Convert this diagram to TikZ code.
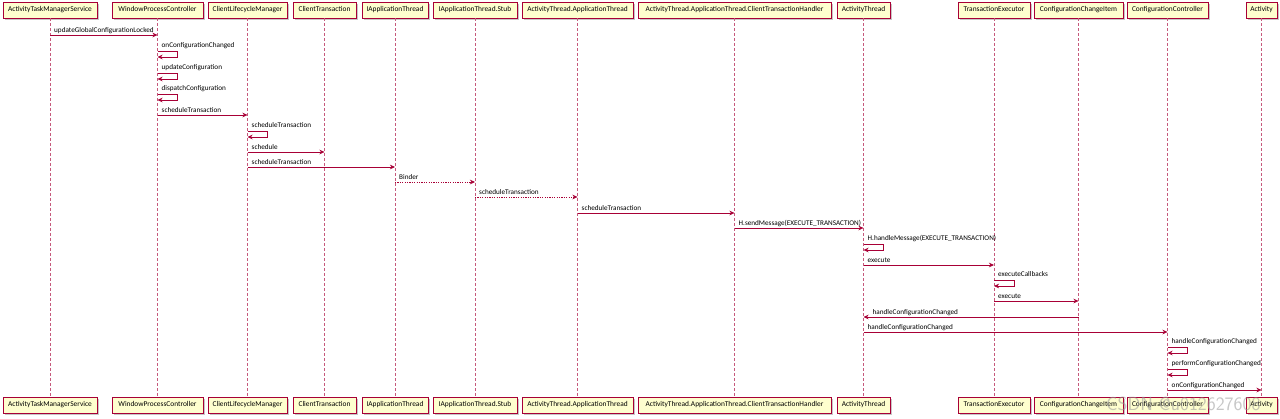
\documentclass[tikz,border=0pt]{standalone}
\usepackage{fontspec}
\setmainfont{Carlito}
\usetikzlibrary{arrows.meta,calc}
\definecolor{pu}{HTML}{A80036}
\definecolor{pfill}{HTML}{FEFECE}
\tikzset{
  part/.style={draw=pu, fill=pfill, line width=0.8pt, minimum height=16pt, inner sep=0pt, text height=5.2pt, text depth=1.6pt, font=\fontsize{7.4}{8}\selectfont, text=black},
  life/.style={draw=pu!65, line width=0.6pt, dash pattern=on 2.5pt off 2.5pt},
  msg/.style={draw=pu, line width=0.6pt, -{Stealth[length=5pt,width=4.5pt,inset=1.5pt]}},
  dmsg/.style={msg, dash pattern=on 1.2pt off 1.2pt},
  lbl/.style={font=\fontsize{7.2}{8}\selectfont, text=black, anchor=base west, inner sep=0pt},
}
\newcommand{\msgR}[4]{% from, to, y, label  (left to right)
  \draw[msg] (#1.center |- 0,#3) -- (#2.center |- 0,#3);
  \node[lbl] at ($(#1.center |- 0,#3)+(4,-3)$) {#4};}
\newcommand{\dmsgR}[4]{%
  \draw[dmsg] (#1.center |- 0,#3) -- (#2.center |- 0,#3);
  \node[lbl] at ($(#1.center |- 0,#3)+(4,-3)$) {#4};}
\newcommand{\msgL}[4]{% from (right), to (left)
  \draw[msg] (#1.center |- 0,#3) -- (#2.center |- 0,#3);
  \node[lbl] at ($(#2.center |- 0,#3)+(9,-3)$) {#4};}
\newcommand{\msgS}[3]{% self: lifeline, top y, label
  \draw[msg] (#1.center |- 0,#2) -- ++(20,0) -- ++(0,6) -- ($(#1.center |- 0,#2)+(0,6)$);
  \node[lbl] at ($(#1.center |- 0,#2)+(4,-4)$) {#3};}
\begin{document}
\begin{tikzpicture}[x=1pt,y=-1pt]
\useasboundingbox[fill=white] (0,0) rectangle (1280,418);
\foreach \n/\l/\r/\t in {
  ATMS/3/97/ActivityTaskManagerService,
  WPC/112/203/WindowProcessController,
  CLM/208/287/ClientLifecycleManager,
  CT/293/356/ClientTransaction,
  IAT/362/428/IApplicationThread,
  STUB/433/517/IApplicationThread.Stub,
  ATAT/522/633/ActivityThread.ApplicationThread,
  CTH/638/831/ActivityThread.ApplicationThread.ClientTransactionHandler,
  AT/837/890/ActivityThread,
  TE/958/1030/TransactionExecutor,
  CCI/1034/1123/ConfigurationChangeItem,
  CC/1127/1208/ConfigurationController,
  ACT/1246/1277/Activity}{
  \fill[black!22] (\l+1.5,3.5) rectangle (\r+1.5,19.5);
  \fill[black!22] (\l+1.5,398.5) rectangle (\r+1.5,414.5);
  \node[part, minimum width=\r-\l] (top\n) at ({(\l+\r)/2},10) {\t};
  \node[part, minimum width=\r-\l] (bot\n) at ({(\l+\r)/2},405) {\t};
  \draw[life] (top\n.south) -- (bot\n.north);
}
\msgR{topATMS}{topWPC}{35}{updateGlobalConfigurationLocked}
\msgS{topWPC}{51}{onConfigurationChanged}
\msgS{topWPC}{73}{updateConfiguration}
\msgS{topWPC}{94}{dispatchConfiguration}
\msgR{topWPC}{topCLM}{115}{scheduleTransaction}
\msgS{topCLM}{131}{scheduleTransaction}
\msgR{topCLM}{topCT}{152}{schedule}
\msgR{topCLM}{topIAT}{167}{scheduleTransaction}
\dmsgR{topIAT}{topSTUB}{182}{Binder}
\dmsgR{topSTUB}{topATAT}{197}{scheduleTransaction}
\msgR{topATAT}{topCTH}{213}{scheduleTransaction}
\msgR{topCTH}{topAT}{228}{H.sendMessage(EXECUTE\_TRANSACTION)}
\msgS{topAT}{244}{H.handleMessage(EXECUTE\_TRANSACTION)}
\msgR{topAT}{topTE}{265}{execute}
\msgS{topTE}{280}{executeCallbacks}
\msgR{topTE}{topCCI}{301}{execute}
\msgL{topCCI}{topAT}{317}{handleConfigurationChanged}
\msgR{topAT}{topCC}{332}{handleConfigurationChanged}
\msgS{topCC}{347}{handleConfigurationChanged}
\msgS{topCC}{369}{performConfigurationChanged}
\msgR{topCC}{topACT}{390}{onConfigurationChanged}
\node[font=\fontsize{19}{20}\selectfont\sffamily, text=black!40, opacity=0.55, anchor=west, inner sep=0pt] (wm) at (1106,404) {CSDN @u012627608};
\end{tikzpicture}
\end{document}
